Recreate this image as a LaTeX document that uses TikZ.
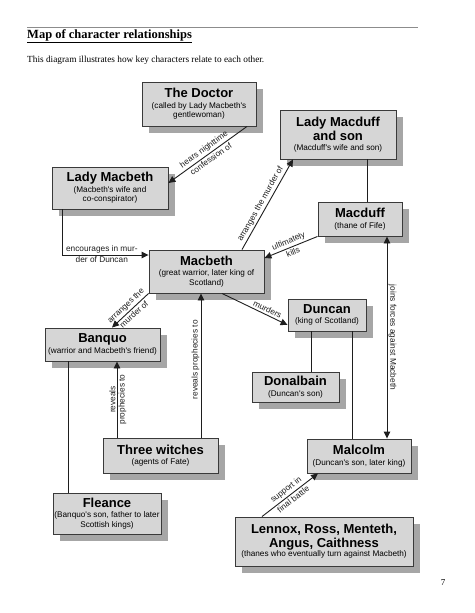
\documentclass[tikz,border=0pt]{standalone}
\usepackage{fontspec}
\setmainfont{Liberation Serif}
\newfontfamily\boxfamily{Liberation Sans}
\usetikzlibrary{arrows.meta,shadows}
\definecolor{boxfill}{HTML}{D6D6D6}
\definecolor{boxline}{HTML}{3A3A3A}
\definecolor{shadowcol}{HTML}{A6A6A6}
\definecolor{linecol}{HTML}{1E1E1E}
\definecolor{rulecol}{HTML}{8C8C8C}
\newcommand{\nmfont}{\fontsize{13}{14.5}\selectfont\bfseries}
\newcommand{\subfont}{\boxfamily\fontsize{8.2}{9.6}\selectfont}
\newcommand{\labfont}{\boxfamily\fontsize{8.3}{10.8}\selectfont}
\begin{document}
\begin{tikzpicture}[x=1pt,y=-1pt,
  charbox/.style={draw=boxline, line width=0.9pt, fill=boxfill, align=center, inner sep=0pt, font=\subfont,
    drop shadow={shadow xshift=6.5pt, shadow yshift=-6.5pt, fill=shadowcol, opacity=1, draw=none}},
  conn/.style={draw=linecol, line width=0.9pt},
  arr/.style={conn, -{Triangle[length=7pt,width=6.5pt]}},
  darr/.style={conn, {Triangle[length=7pt,width=6.5pt]}-{Triangle[length=7pt,width=6.5pt]}},
  lab/.style={font=\labfont, align=center, inner sep=1.2pt, text=linecol},
  labup/.style={lab, sloped, above=0.6pt},
  labdn/.style={lab, sloped, below=0.6pt},
  vleft/.style={lab, rotate=90, anchor=south},
  vright/.style={lab, rotate=90, anchor=north}
]
\useasboundingbox (0,0) rectangle (474,613);
\fill[white] (0,0) rectangle (474,613);

% header
\draw[rulecol, line width=1pt] (27,27) -- (418,27);
\node[anchor=base west, inner sep=0pt, font=\fontsize{12.5}{14}\selectfont\bfseries] (title) at (27,38) {\underline{Map of character relationships}};
\node[anchor=base west, inner sep=0pt, font=\fontsize{9.3}{11}\selectfont] (intro) at (27,62) {This diagram illustrates how key characters relate to each other.};
\node[anchor=base, inner sep=0pt, font=\fontsize{9}{11}\selectfont] (pnum) at (443,585) {7};

% characters
\node[charbox, minimum width=114pt, minimum height=44pt] (doc) at (199,104) {{\nmfont The Doctor}\\[1pt](called by Lady Macbeth's\\gentlewoman)};
\node[charbox, minimum width=116pt, minimum height=49pt] (lmd) at (338,134.5) {{\nmfont Lady Macduff}\\[1.5pt]{\nmfont and son}\\(Macduff's wife and son)};
\node[charbox, minimum width=116pt, minimum height=42pt] (lmb) at (110,188) {{\nmfont Lady Macbeth}\\[1pt](Macbeth's wife and\\co-conspirator)};
\node[charbox, minimum width=84pt, minimum height=34pt] (mcd) at (360,219) {{\nmfont Macduff}\\[1pt](thane of Fife)};
\node[charbox, minimum width=115pt, minimum height=43pt] (mb) at (206.5,271.5) {{\nmfont Macbeth}\\[1pt](great warrior, later king of\\Scotland)};
\node[charbox, minimum width=115pt, minimum height=33pt] (banq) at (102.5,344.5) {{\nmfont Banquo}\\[1pt](warrior and Macbeth's friend)};
\node[charbox, minimum width=78pt, minimum height=32pt] (dun) at (327,315) {{\nmfont Duncan}\\[1pt](king of Scotland)};
\node[charbox, minimum width=87pt, minimum height=30pt] (don) at (295.5,387) {{\nmfont Donalbain}\\[1pt](Duncan's son)};
\node[charbox, minimum width=115pt, minimum height=35pt] (wit) at (160.5,455.5) {{\nmfont Three witches}\\[1pt](agents of Fate)};
\node[charbox, minimum width=104pt, minimum height=34pt] (mal) at (359,456) {{\nmfont Malcolm}\\[1pt](Duncan's son, later king)};
\node[charbox, minimum width=108pt, minimum height=41pt] (fle) at (107,513.5) {{\nmfont Fleance}\\[1pt](Banquo's son, father to later\\Scottish kings)};
\node[charbox, minimum width=178pt, minimum height=49pt] (len) at (324,541.5) {{\nmfont Lennox, Ross, Menteth,}\\[1pt]{\nmfont Angus, Caithness}\\(thanes who eventually turn against Macbeth)};

% connectors
\draw[arr] ([xshift=48pt]doc.south) -- node[labup]{hears nighttime} node[labdn]{confession of} ([yshift=5pt]lmb.east);
\draw[arr] ([xshift=35.5pt]mb.north) -- node[labup, pos=0.47]{arranges the murder of} ([xshift=-45pt]lmd.south);
\draw[conn] ([xshift=29pt]lmd.south) -- ([xshift=7pt]mcd.north);
\draw[arr] (mcd.south west) -- node[labup]{ultimately} node[labdn]{kills} ([yshift=13.5pt]mb.east);
\draw[arr] ([xshift=-48pt]lmb.south) |- node[lab, above=0.3pt, pos=0.73]{encourages in mur-} node[lab, below=0.3pt, pos=0.73]{der of Duncan} ([yshift=16.5pt]mb.west);
\draw[arr] (mb.south west) -- node[labup]{arranges the} node[labdn]{murder of} ([xshift=9.5pt]banq.north);
\draw[arr] ([xshift=-43.5pt]wit.north) -- node[vleft]{reveals} node[vright]{prophecies to} ([xshift=14.5pt]banq.south);
\draw[arr] ([xshift=40.5pt]wit.north) -- node[vleft, pos=0.54]{reveals prophecies to} ([xshift=-5.5pt]mb.south);
\draw[conn] ([xshift=-34.5pt]banq.south) -- ([xshift=-39pt]fle.north);
\draw[arr] ([xshift=15.5pt]mb.south) -- node[labup, pos=0.66]{murders} ([yshift=-10pt]dun.west);
\draw[conn] ([xshift=-16pt]dun.south) -- ([xshift=15.5pt]don.north);
\draw[conn] ([xshift=25pt]dun.south) -- ([xshift=-7pt]mal.north);
\draw[darr] ([xshift=27pt]mcd.south) -- node[lab, rotate=-90, anchor=south]{joins forces against Macbeth} ([xshift=28pt]mal.north);
\draw[arr] ([xshift=-62pt]len.north) -- node[labup]{support in} node[labdn]{final battle} ([xshift=-41pt]mal.south);
\end{tikzpicture}
\end{document}
